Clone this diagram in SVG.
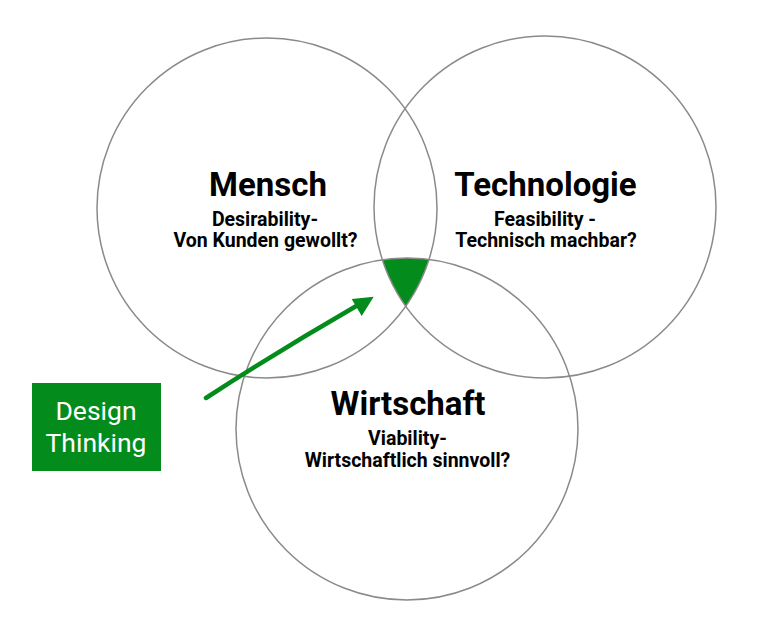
<svg xmlns="http://www.w3.org/2000/svg" width="763" height="628" viewBox="0 0 763 628">
<style>
.c{fill:none;stroke:#8a8a8a;stroke-width:1.5}
.t{font-family:Roboto,"Liberation Sans",sans-serif;font-weight:bold;fill:#000;text-anchor:middle}
.h{font-size:33px}
.s{font-size:19.5px}
.w{font-family:Roboto,"Liberation Sans",sans-serif;font-size:26.5px;fill:#fff;text-anchor:middle}
</style>
<rect width="763" height="628" fill="#fff"/>
<g id="center">
<path d="M382.3 259.8 A171 171 0 0 1 429 259.5 A170 170 0 0 1 405.8 306.2 A171 171 0 0 1 382.3 259.8 Z" fill="#038c1c"/>
</g>
<g id="mensch">
<circle class="c" cx="267" cy="208" r="170"/>
<text class="t h" x="268" y="195.5">Mensch</text>
<text class="t s" x="265" y="225.5">Desirability-</text>
<text class="t s" x="265.5" y="247">Von Kunden gewollt?</text>
</g>
<g id="technologie">
<circle class="c" cx="545" cy="207" r="171"/>
<text class="t h" x="545.5" y="195.5">Technologie</text>
<text class="t s" x="545" y="225.5">Feasibility -</text>
<text class="t s" x="546" y="247">Technisch machbar?</text>
</g>
<g id="wirtschaft">
<circle class="c" cx="407" cy="429" r="171"/>
<text class="t h" x="408" y="414.5">Wirtschaft</text>
<text class="t s" x="407.5" y="444.5">Viability-</text>
<text class="t s" x="407.5" y="466.5">Wirtschaftlich sinnvoll?</text>
</g>
<g id="design-thinking">
<rect x="32" y="383" width="129" height="88" fill="#038c1c"/>
<text class="w" x="96" y="420">Design</text>
<text class="w" x="96" y="452">Thinking</text>
</g>
<g id="connectors">
<path d="M206 398 Q280 350 358 305" fill="none" stroke="#038c1c" stroke-width="4.5" stroke-linecap="round"/>
<polygon points="351.7,299 373.7,296.7 361.7,316" fill="#038c1c"/>
</g>
</svg>
